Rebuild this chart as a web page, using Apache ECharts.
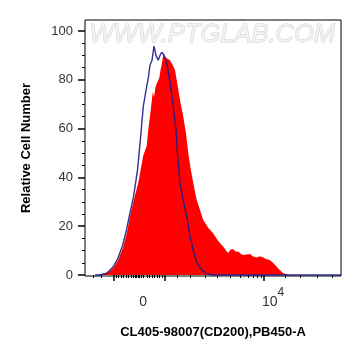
<!DOCTYPE html>
<html>
<head>
<meta charset="utf-8">
<script src="https://cdn.jsdelivr.net/npm/echarts@6/dist/echarts.min.js"></script>
<style>html,body{margin:0;padding:0;background:#fff;}#c{width:361px;height:356px;}</style>
</head>
<body>
<div id="c"></div>
<script>
// channel scale (arbitrary display units of the biexponential axis)
const redX = [48,80,100,113,132,153,168,180,196,213,233,247,253,263,271,276,282,289,297,302,307,313,320,324,329,340,346,351,360,364,369,380,393,404,413,422,433,446,460,473,492,513,532,553,564,573,582,593,604,613,624,633,646,660,672,687,696,707,720,740,752,767,780,793,820];
const redY = [0,0.6,1.8,2.9,6,11.6,17.5,24,31,37.7,49,53,59.4,67.6,75,73,77,79,80.6,84,86.3,90.4,90.7,89,89.5,88,88.5,86,84,84.5,78.6,71.7,65,58,50,44,37.7,31,26.6,22.5,19.5,17,14,11.6,10,9,10.5,10.6,9.5,9.6,8.6,8.2,8.4,8.6,7.6,7.2,7.6,7.5,6.8,6.1,5,3.4,2,0.7,0];
const blueX = [40,60,88,113,130,150,165,178,194,210,222,233,243,248,253,260,268,276,284,293,300,307,316,327,340,353,364,369,380,392,407,420,433,446,460,487,512,1024];
const blueY = [0,0,0.8,3.4,6.5,12,18,24.5,32,43,56,69,75,78,80.6,86,88,93.8,90,88,90,91.3,90.2,86.9,78.7,69,59.4,51,37.7,31,24,16,10,5.5,2.9,0.4,0,0];
const xMajorTicks = [113,320,716];
const xMinorTicks = [31,63,124,133,143,153,163,173,183,193,200,206,212,218,224,233,247,257,267,276,287,297,307,367,420,480,527,580,620,653,673,689,704,800,860,927,987];
const xLabelValues = [233,716];
const xLabelTexts = ['0','10^4'];
const yMajorTicks = [0,20,40,60,80,100];
const yMinorTicks = [5,10,15,25,30,35,45,50,55,65,70,75,85,90,95];
const xTitle = 'CL405-98007(CD200),PB450-A';
const yTitle = 'Relative Cell Number';

const zip = (a,b) => a.map((v,i)=>[v,b[i]]);
const FONT = 'Liberation Sans, Arial, sans-serif';

const chart = echarts.init(document.getElementById('c'), null, {renderer:'canvas'});
const xBase = {type:'value', min:0, max:1024, position:'bottom', splitLine:{show:false}, axisLine:{show:false}};
const yBase = {type:'value', min:-0.4, max:104.5, splitLine:{show:false}, axisLine:{show:false}};
chart.setOption({
  animation:false,
  backgroundColor:'#fff',
  grid:{left:85, top:20, width:256, height:256, show:true, borderColor:'#000', borderWidth:1, backgroundColor:'transparent'},
  graphic:[{
    type:'text', left:89, top:21, z:1,
    style:{text:'WWW.PTGLAB.COM', font:'italic 25.5px '+FONT, fill:'#f2f2f2', stroke:'#d0d0d0', lineWidth:1}
  }],
  xAxis:[
    Object.assign({}, xBase, {
      axisTick:{show:true, length:3, customValues:xMinorTicks, lineStyle:{color:'#000'}},
      axisLabel:{show:false},
      name:xTitle, nameLocation:'middle', nameGap:50,
      nameTextStyle:{fontFamily:FONT, fontWeight:'bold', fontSize:13, color:'#000'}
    }),
    Object.assign({}, xBase, {
      axisTick:{show:true, length:6, customValues:xMajorTicks, lineStyle:{color:'#000', width:1.5}},
      axisLabel:{show:true, customValues:xLabelValues, margin:9, fontFamily:FONT, color:'#333',
        formatter:function(v){ const i = xLabelValues.indexOf(v); const t = xLabelTexts[i] || '';
          if (t.indexOf('^')>=0){ const p=t.split('^'); return '{p|'+p[0]+'}{s|'+p[1]+'}'; }
          return '{b|'+t+'}'; },
        rich:{b:{fontSize:14, fontFamily:FONT, color:'#333', verticalAlign:'bottom', lineHeight:24},
              p:{fontSize:14, fontFamily:FONT, color:'#333', verticalAlign:'bottom', lineHeight:24, padding:[0,0,0,18]},
              s:{fontSize:12, fontFamily:FONT, color:'#333', verticalAlign:'bottom', lineHeight:24, padding:[0,0,10,0]}}
      }
    })
  ],
  yAxis:[
    Object.assign({}, yBase, {
      axisTick:{show:true, length:7, customValues:yMajorTicks, lineStyle:{color:'#000', width:1.5}},
      axisLabel:{show:true, customValues:yMajorTicks, margin:12, fontFamily:FONT, fontSize:13, color:'#333'},
      name:yTitle, nameLocation:'middle', nameGap:52,
      nameTextStyle:{fontFamily:FONT, fontWeight:'bold', fontSize:13, color:'#000'}
    }),
    Object.assign({}, yBase, {
      position:'left',
      axisTick:{show:true, length:3, customValues:yMinorTicks, lineStyle:{color:'#000'}},
      axisLabel:{show:false}
    })
  ],
  series:[
    {type:'line', data:zip(redX,redY), xAxisIndex:0, yAxisIndex:0, showSymbol:false, z:2,
     lineStyle:{width:0, opacity:0}, areaStyle:{color:'#ff0000', opacity:1}},
    {type:'line', data:zip(blueX,blueY), xAxisIndex:0, yAxisIndex:0, showSymbol:false, z:3,
     lineStyle:{width:1.4, color:'#1c1c86', opacity:0.9}}
  ]
});
</script>
</body>
</html>
